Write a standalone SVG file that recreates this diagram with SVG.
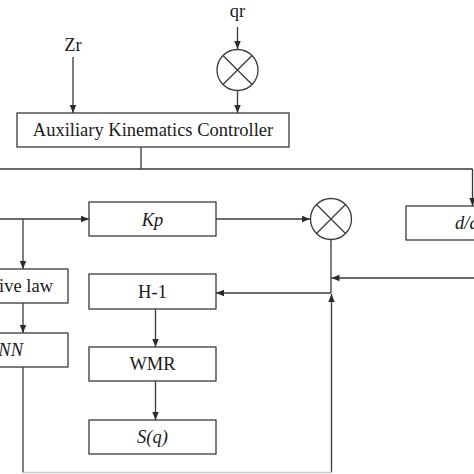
<svg xmlns="http://www.w3.org/2000/svg" width="474" height="474" viewBox="0 0 474 474">
<defs>
<marker id="ah" viewBox="0 0 10 10" refX="10" refY="5" markerWidth="8" markerHeight="8" markerUnits="userSpaceOnUse" orient="auto"><path d="M0,1 L10,5 L0,9 Z" fill="#2a2a2a"/></marker>
</defs>
<style>
.box{fill:#fff;stroke:#3a3a3a;stroke-width:1.3}
.ln{fill:none;stroke:#3a3a3a;stroke-width:1.3}
.t{font-family:"Liberation Serif","Times New Roman",serif;font-size:18.5px;fill:#1a1a1a;text-anchor:middle}
.i{font-style:italic}
</style>
<rect width="474" height="474" fill="#fff"/>
<g id="connectors">
<path class="ln" d="M237.5,27 V49" marker-end="url(#ah)"/>
<path class="ln" d="M237.5,91 V113" marker-end="url(#ah)"/>
<path class="ln" d="M73,57 V113" marker-end="url(#ah)"/>
<path class="ln" d="M141,147 V169 M0,169 H472.5"/>
<path class="ln" d="M472.5,169 V206" marker-end="url(#ah)"/>
<path class="ln" d="M0,219 H89" marker-end="url(#ah)"/>
<path class="ln" d="M23,219 V269" marker-end="url(#ah)"/>
<path class="ln" d="M23,303 V333" marker-end="url(#ah)"/>
<path class="ln" d="M216,219 H310" marker-end="url(#ah)"/>
<path class="ln" d="M331,240 V293"/>
<path class="ln" d="M474,278 H331.5" marker-end="url(#ah)"/>
<path class="ln" d="M331,293 H216" marker-end="url(#ah)"/>
<path class="ln" d="M23,367 V472.5"/>
<path class="ln" d="M331.5,472.5 V294" marker-end="url(#ah)"/>
<path d="M23,472.5 H332" fill="none" stroke="#c8c8c8" stroke-width="1.5"/>
<path class="ln" d="M155.5,309 V347" marker-end="url(#ah)"/>
<path class="ln" d="M155.5,381 V420" marker-end="url(#ah)"/>
</g>
<g id="label-qr"><text class="t" x="237.5" y="17">qr</text></g>
<g id="label-zr"><text class="t" x="73" y="51">Zr</text></g>
<g id="sum1">
<circle class="box" cx="237.5" cy="70" r="20.5"/>
<path class="ln" d="M223,55.5 L252,84.5 M252,55.5 L223,84.5"/>
</g>
<g id="akc">
<rect class="box" x="17" y="113" width="272" height="34"/>
<text class="t" x="153" y="136">Auxiliary Kinematics Controller</text>
</g>
<g id="kp">
<rect class="box" x="89" y="202" width="127" height="34"/>
<text class="t i" x="152.5" y="226">Kp</text>
</g>
<g id="sum2">
<circle class="box" cx="331" cy="219" r="20.5"/>
<path class="ln" d="M316.5,204.5 L345.5,233.5 M345.5,204.5 L316.5,233.5"/>
</g>
<g id="ddt">
<rect class="box" x="406" y="206" width="80" height="34"/>
<text class="t i" x="455" y="229" style="text-anchor:start">d/dt</text>
</g>
<g id="adaptive">
<rect class="box" x="-60" y="269" width="128" height="34"/>
<text class="t" x="53" y="292" style="text-anchor:end">Adaptive law</text>
</g>
<g id="nn">
<rect class="box" x="-60" y="333" width="128" height="34"/>
<text class="t i" x="23" y="356" style="text-anchor:end">WNN</text>
</g>
<g id="h1">
<rect class="box" x="89" y="274" width="127" height="35"/>
<text class="t" x="152.5" y="298">H-1</text>
</g>
<g id="wmr">
<rect class="box" x="89" y="347" width="127" height="34"/>
<text class="t" x="152.5" y="370">WMR</text>
</g>
<g id="sq">
<rect class="box" x="89" y="420" width="127" height="34"/>
<text class="t i" x="152.5" y="443">S(q)</text>
</g>
</svg>
